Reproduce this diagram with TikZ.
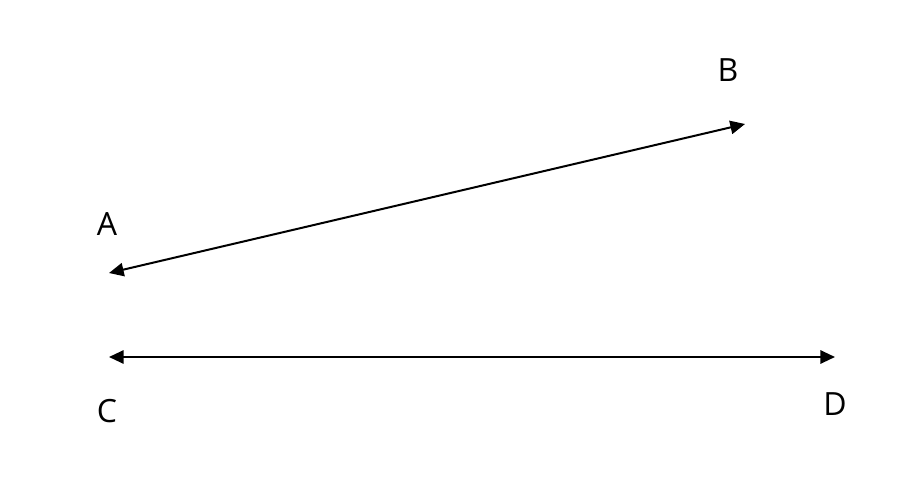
\documentclass[tikz,border=0pt]{standalone}
\usepackage{fontspec}
\setmainfont{Open Sans}
\usetikzlibrary{arrows.meta}

\begin{document}
\begin{tikzpicture}[x=0.75pt,y=-0.75pt,
		lbl/.style={font=\fontsize{24}{28}\selectfont, inner sep=0pt},
		vec/.style={line width=1.5pt, {Triangle[length=11pt,width=10pt]}-{Triangle[length=11pt,width=10pt]}}]
		\useasboundingbox (0,0) rectangle (917,502);
		\coordinate (a) at (109,273);
		\coordinate (b) at (745,124);
		\coordinate (c) at (109,357);
		\coordinate (d) at (835,357);
		\draw[vec] (a) -- (b);
		\draw[vec] (c) -- (d);
		\node[lbl] (labA) at (107,224) {A};
		\node[lbl] (labB) at (728,70) {B};
		\node[lbl] (labC) at (107,411) {C};
		\node[lbl] (labD) at (835,404) {D};
	\end{tikzpicture}
\end{document}
